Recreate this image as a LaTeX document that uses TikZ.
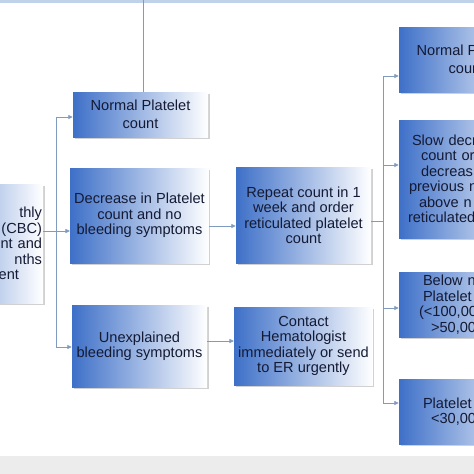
\documentclass[tikz,border=0pt]{standalone}
\usepackage{fontspec}
\setmainfont{Liberation Sans}
\usetikzlibrary{arrows.meta, positioning, shadows}

\definecolor{boxblue}{RGB}{62,112,200}
\definecolor{linkgray}{RGB}{128,155,192}
\definecolor{textnavy}{RGB}{20,26,52}
\definecolor{bandblue}{RGB}{192,210,233}
\definecolor{bandgray}{RGB}{236,236,236}

\tikzset{
  flowbox/.style={left color=boxblue, right color=white, text=textnavy,
    minimum width=135pt, inner xsep=4pt, inner ysep=2pt, align=center,
    font=\fontsize{14.6}{15.5}\selectfont,
    drop shadow={shadow xshift=1.5pt, shadow yshift=-1.5pt, fill=black!40, opacity=0.45}},
  cutbox/.style={flowbox, text width=127pt, align=left},
  conn/.style={draw=linkgray, line width=0.8pt},
  conarrow/.style={conn, -{Triangle[length=4.5pt,width=4pt]}},
}

\begin{document}
\begin{tikzpicture}[x=1pt, y=-1pt, node distance=164pt, auto]
    \useasboundingbox (0,0) rectangle (474,474);
    \fill[white] (0,0) rectangle (474,474);
    \clip (0,0) rectangle (474,474);
    \fill[bandblue] (0,0) rectangle (474,2.5);
    \fill[bandgray] (0,456) rectangle (474,474);

    % Nodes
    \node[flowbox, minimum height=119pt, text width=133pt, inner xsep=1pt, align=right] (cbc) at (-24.5,243.5)
        {thly\hspace*{19pt}\\(CBC)\hspace*{2pt}\\nt and\\nths\hspace*{17pt}\\ent\hspace*{23pt}};
    \node[flowbox, minimum height=45pt, font=\fontsize{14.6}{18}\selectfont] (normL) at (140.5,114.5) {Normal Platelet\\count};
    \node[flowbox, minimum height=95pt] (dec) at (139.5,215.5) {Decrease in Platelet\\count and no\\bleeding symptoms};
    \node[flowbox, minimum height=82pt] (unexp) at (139.5,346) {Unexplained\\bleeding symptoms};
    \node[flowbox, minimum height=96pt] (rep) [right of=dec] {Repeat count in 1\\week and order\\reticulated platelet\\count};
    \node[flowbox, minimum height=78pt] (contact) [right of=unexp] {Contact\\Hematologist\\immediately or send\\to ER urgently};
    \node[flowbox, minimum height=65pt, font=\fontsize{14.6}{17.5}\selectfont] (normR) at (466.5,59.5) {Normal Platelet\\count};
    \node[cutbox, minimum height=118pt] (slow) at (466.5,179)
        {\hspace*{9pt}Slow decr\\\hspace*{18pt}count or\\\hspace*{18pt}decreas\\\hspace*{6pt}previous n\\\hspace*{16pt}above n\\\hspace*{5pt}reticulated};
    \node[cutbox, minimum height=65pt] (below) at (466.5,304.5)
        {\hspace*{20pt}Below n\\\hspace*{20pt}Platelet\\\hspace*{16pt}(<100,00\\\hspace*{28pt}>50,00};
    \node[cutbox, minimum height=65pt] (low) at (466.5,411.5)
        {\hspace*{20pt}Platelet\\\hspace*{28pt}<30,00};

    \coordinate (top) at (143,0);
    \coordinate (ltop) at (56,117);
    \coordinate (lbot) at (56,347);
    \coordinate (rtop) at (383,76);
    \coordinate (rbot) at (383,403);

    % Arrows
    \draw[conn] (top) -- (top |- normL.north);
    \draw[conn] (ltop) -- (lbot);
    \draw[conarrow] (ltop) -- (ltop -| normL.west);
    \draw[conarrow] (lbot) -- (lbot -| unexp.west);
    \draw[conarrow] (cbc.east |- 0,231) -- (dec.west |- 0,231);
    \draw[conarrow] (dec.east |- 0,226) -- (rep.west |- 0,226);
    \draw[conarrow] (unexp.east |- 0,341) -- (contact.west |- 0,341);
    \draw[conn] (rep.east |- 0,221) -- (rtop |- 0,221);
    \draw[conn] (rtop) -- (rbot);
    \draw[conarrow] (rtop) -- (rtop -| normR.west);
    \draw[conarrow] (rtop |- 0,165) -- (slow.west |- 0,165);
    \draw[conarrow] (rtop |- 0,308) -- (below.west |- 0,308);
    \draw[conarrow] (rbot) -- (rbot -| low.west);
\end{tikzpicture}
\end{document}
